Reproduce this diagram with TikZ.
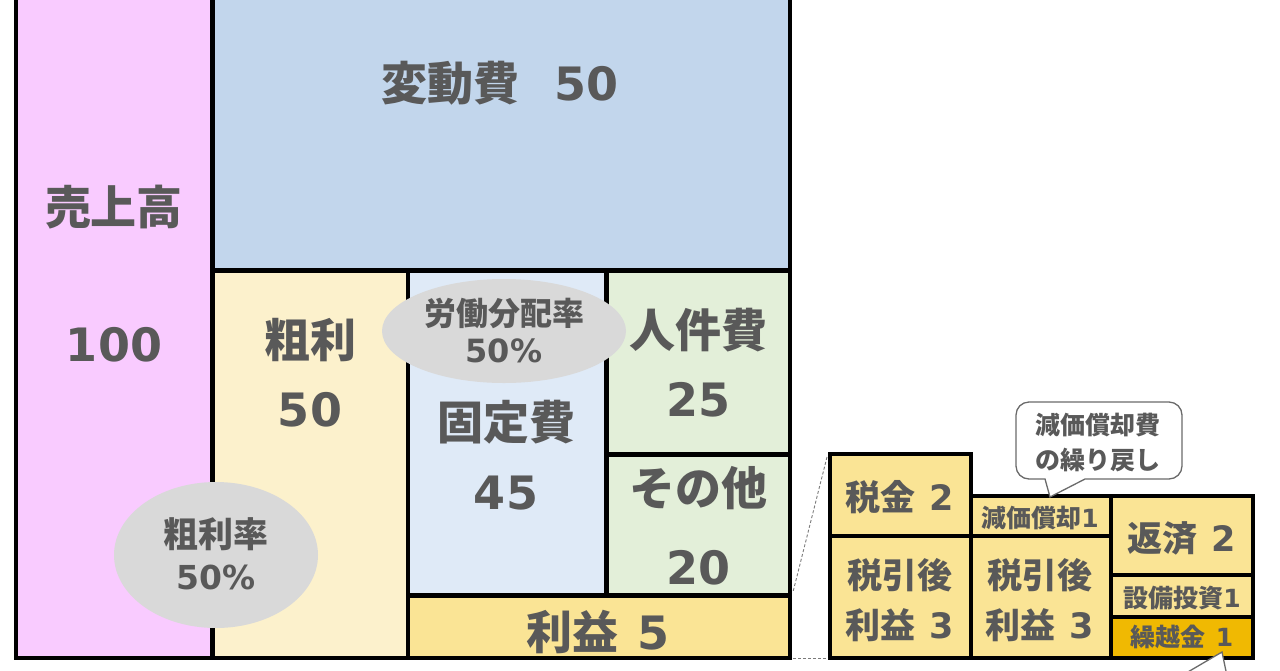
\documentclass[tikz,border=0pt]{standalone}
\usepackage{fontspec}
\setmainfont{Noto Sans CJK JP}
\newfontfamily\lat{DejaVu Sans}
\usetikzlibrary{shapes.geometric}
\definecolor{txt}{HTML}{595959}
\definecolor{cpink}{HTML}{F9CBFF}
\definecolor{cblue}{HTML}{C2D6EC}
\definecolor{ccream}{HTML}{FCF1CC}
\definecolor{clblue}{HTML}{DFEAF7}
\definecolor{cgreen}{HTML}{E3EFD9}
\definecolor{cyel}{HTML}{FAE495}
\definecolor{cgold}{HTML}{F0B902}
\definecolor{cgray}{HTML}{D9D9D9}
\newcommand\gap{\hspace{0.4em}}
\newcommand\nm[1]{{\lat\bfseries #1}}
\begin{document}
\begin{tikzpicture}[x=1pt,y=-1pt,
  frame/.style={line width=4.5pt, line cap=rect},
  big/.style={font=\fontsize{46}{56}\selectfont\bfseries, text=txt, inner sep=0pt},
  mid/.style={font=\fontsize{35}{50}\selectfont\bfseries, text=txt, inner sep=0pt, align=center},
  small/.style={font=\fontsize{25}{35}\selectfont\bfseries, text=txt, inner sep=0pt, align=center},
  bubble/.style={ellipse, fill=cgray, draw=none, inner sep=0pt},
  guide/.style={densely dashed, line width=0.9pt, draw=txt!80},
  callout/.style={draw=txt!90, line width=1.3pt, fill=white}]
\useasboundingbox (0,0) rectangle (1280,670);
\clip (0,0) rectangle (1280,670);
% ---- fills, main box
\fill[cpink] (16,-10) rectangle (212.5,658);
\fill[cblue] (212.5,-10) rectangle (790,270.5);
\fill[ccream] (212.5,270.5) rectangle (408,658);
\fill[clblue] (408,270.5) rectangle (606.5,595.5);
\fill[cgreen] (606.5,270.5) rectangle (790,595.5);
\fill[cyel] (408,595.5) rectangle (790,658);
% ---- fills, detail box
\fill[cyel] (830,454) rectangle (971,658);
\fill[cyel] (971,496) rectangle (1253,658);
\fill[cgold] (1111,617) rectangle (1253,658);
% ---- lines, main box
\draw[frame] (16,-10) -- (16,658) -- (790,658) -- (790,-10);
\draw[frame] (212.5,-10) -- (212.5,658);
\draw[frame] (212.5,270.5) -- (790,270.5);
\draw[frame] (408,270.5) -- (408,658);
\draw[frame] (606.5,270.5) -- (606.5,595.5);
\draw[frame] (606.5,454.5) -- (790,454.5);
\draw[frame] (408,595.5) -- (790,595.5);
% ---- lines, detail box
\draw[frame] (830,658) -- (830,454) -- (971,454) -- (971,658);
\draw[frame] (971,496) -- (1253,496) -- (1253,658) -- (830,658);
\draw[frame] (830,536) -- (1111,536);
\draw[frame] (1111,496) -- (1111,658);
\draw[frame] (1111,575) -- (1253,575);
\draw[frame] (1111,617) -- (1253,617);
% ---- guides
\coordinate (g1a) at (827,457);
\coordinate (g1b) at (793,592);
\coordinate (g2a) at (793,658);
\coordinate (g2b) at (828,658);
\draw[guide] (g1a) -- (g1b);
\draw[guide] (g2a) -- (g2b);
% ---- bubbles
\node[bubble, minimum width=204pt, minimum height=146pt] (b1) at (216,555) {};
\node[bubble, minimum width=244pt, minimum height=104pt] (b2) at (504,331) {};
% ---- callouts
\draw[callout] (1099,402) [rounded corners=13pt] -- (1182,402) -- (1182,479) -- (1120,479) [sharp corners] -- (1085,479) -- (1050,497) -- (1045,479) [rounded corners=13pt] -- (1016,479) -- (1016,402) -- cycle;
\draw[callout] (1150,740) [rounded corners=13pt] -- (1150,676) -- (1160,676) [sharp corners] -- (1181,676) -- (1222,652) -- (1227,676) [rounded corners=13pt] -- (1300,676) -- (1300,740) -- cycle;
% ---- texts, main box
\node[big] (t1) at (500,83) {変動費\hspace{0.75em}\nm{50}};
\node[big] (t2) at (114,207) {売上高};
\node[big] (t3) at (114,345) {\nm{100}};
\node[big] (t4) at (310,340) {粗利};
\node[big] (t5) at (310,410) {\nm{50}};
\node[big] (t6) at (506,422) {固定費};
\node[big] (t7) at (506,493) {\nm{45}};
\node[big] (t8) at (698,330) {人件費};
\node[big] (t9) at (698,400) {\nm{25}};
\node[big] (t10) at (698,488) {その他};
\node[big] (t11) at (698,568) {\nm{20}};
\node[big] (t12) at (598,632) {利益\gap\nm{5}};
\node[font=\fontsize{32}{38}\selectfont\bfseries, text=txt, inner sep=0pt] (t13) at (504,313) {労働分配率};
\node[font=\fontsize{32}{38}\selectfont\bfseries, text=txt, inner sep=0pt] (t14) at (504,351) {\nm{50\%}};
\node[font=\fontsize{35}{40}\selectfont\bfseries, text=txt, inner sep=0pt] (t15) at (216,534) {粗利率};
\node[font=\fontsize{33}{40}\selectfont\bfseries, text=txt, inner sep=0pt] (t16) at (216,577) {\nm{50\%}};
% ---- texts, detail box
\node[mid] (d1) at (900,497) {税金\gap\nm{2}};
\node[mid] (d2) at (900,575) {税引後};
\node[mid] (d3) at (900,625) {利益\gap\nm{3}};
\node[small] (d4) at (1040,518) {減価償却\nm{1}};
\node[mid] (d5) at (1040,575) {税引後};
\node[mid] (d6) at (1040,625) {利益\gap\nm{3}};
\node[mid] (d7) at (1182,538) {返済\gap\nm{2}};
\node[small] (d8) at (1182,598) {設備投資\nm{1}};
\node[small] (d9) at (1182,637) {繰越金\gap\nm{1}};
\node[small] (c1) at (1098,425) {減価償却費};
\node[small] (c2) at (1098,460) {の繰り戻し};
\end{tikzpicture}
\end{document}
